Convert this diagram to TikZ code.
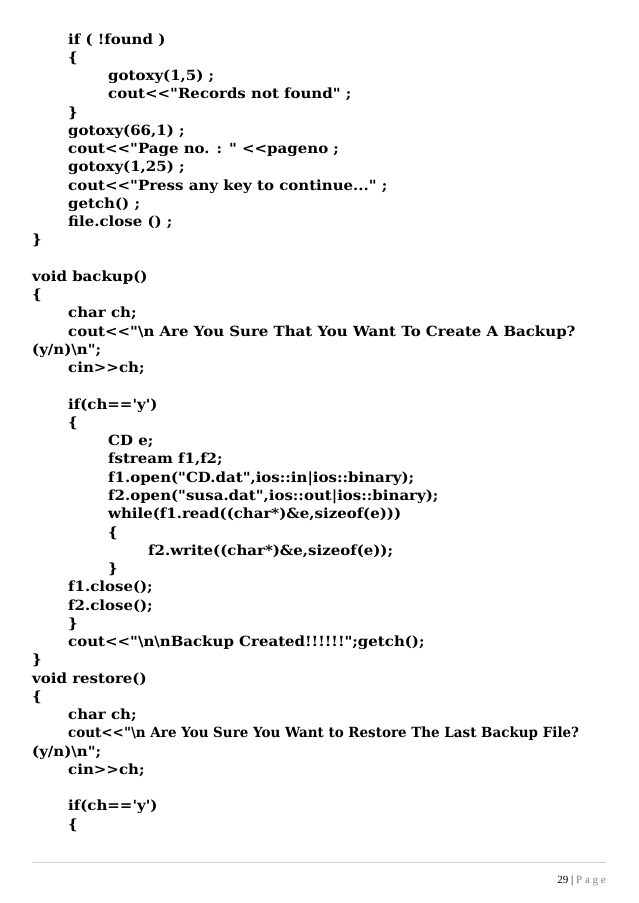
\documentclass[tikz,border=0pt]{standalone}
\usepackage{graphicx}
\usepackage{fontspec}
\setmainfont{DejaVu Serif}[Ligatures=TeXOff,FakeStretch=1.07]
\newfontfamily\footfont{Liberation Serif}
\begin{document}
\begin{tikzpicture}[x=1pt,y=-1pt,
  code/.style={anchor=base west,inner sep=0pt,font=\fontsize{14}{16}\selectfont\bfseries}]
\useasboundingbox (0,0) rectangle (638,903);
\def\LH{18.26}
\foreach \i/\x/\t in {
0/68/{if ( !found )},
1/68/{\{},
2/108/{gotoxy(1,5) ;},
3/108/{cout<<"Records not found" ;},
4/68/{\}},
5/68/{gotoxy(66,1) ;},
6/68/{cout<<"Page no. : " <<pageno ;},
7/68/{gotoxy(1,25) ;},
8/68/{cout<<"Press any key to continue..." ;},
9/68/{getch() ;},
10/68/{file.close () ;},
11/32/{\}},
13/32/{void backup()},
14/32/{\{},
15/68/{char ch;},
16/68/{cout<<"\textbackslash n Are You Sure That You Want To Create A Backup?},
17/32/{(y/n)\textbackslash n";},
18/68/{cin>>ch;},
20/68/{if(ch=='y')},
21/68/{\{},
22/108/{CD e;},
23/108/{fstream f1,f2;},
24/108/{f1.open("CD.dat",ios::in|ios::binary);},
25/108/{f2.open("susa.dat",ios::out|ios::binary);},
26/108/{while(f1.read((char*)\&e,sizeof(e)))},
27/108/{\{},
28/148/{f2.write((char*)\&e,sizeof(e));},
29/108/{\}},
30/68/{f1.close();},
31/68/{f2.close();},
32/68/{\}},
33/68/{cout<<"\textbackslash n\textbackslash nBackup Created!!!!!!";getch();},
34/32/{\}},
35/32/{void restore()},
36/32/{\{},
37/68/{char ch;},
38/68/{\scalebox{0.9}[1]{cout<<"\textbackslash n Are You Sure You Want to Restore The Last Backup File?}},
39/32/{(y/n)\textbackslash n";},
40/68/{cin>>ch;},
42/68/{if(ch=='y')},
43/68/{\{}}
{\node[code] (l\i) at (\x,{44+\i*\LH}) {\t};}
\coordinate (fa) at (32,862);
\coordinate (fb) at (606,862);
\draw[gray!40,line width=0.6pt] (fa) -- (fb);
\node[anchor=base east,inner sep=0pt,font=\footfont\fontsize{11}{13}\selectfont] (pg) at (606,883) {29 | \textcolor{gray}{P a g e}};
\end{tikzpicture}
\end{document}
